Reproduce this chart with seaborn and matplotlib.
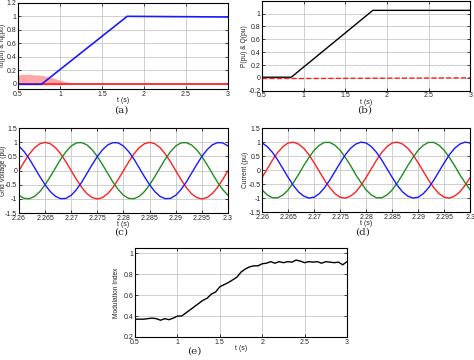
import numpy as np
import pandas as pd
import matplotlib
matplotlib.use("Agg")
import matplotlib.pyplot as plt
from matplotlib.ticker import FormatStrFormatter
import seaborn as sns

# (a) d/q currents
t_a = [0.5, 0.78, 1.8, 3.0]
id_a = [-0.01, -0.01, 1.0, 0.99]
t_iq = [0.5, 0.6, 0.7, 0.8, 0.85, 0.9, 0.95, 1.0, 1.05, 1.1, 1.2, 3.0]
iq_hi = [0.13, 0.14, 0.13, 0.12, 0.10, 0.09, 0.07, 0.05, 0.03, 0.02, 0.01, 0.01]
iq_lo = [-0.02, -0.02, -0.02, -0.02, -0.02, -0.02, -0.02, -0.02, -0.015, -0.01, -0.01, -0.01]

# (b) active / reactive power
t_b = [0.5, 0.85, 1.83, 3.0]
p_b = [0.01, 0.01, 1.05, 1.05]
t_q = [0.5, 1.0, 2.0, 3.0]
q_b = [-0.01, -0.01, -0.005, 0.0]

# (c) grid voltage, (d) current : sampled every 1 ms
t_w = [2.26 + 0.001 * k for k in range(41)]
va = [0, .31, .59, .81, .95, 1, .95, .81, .59, .31, 0, -.31, -.59, -.81, -.95, -1, -.95, -.81, -.59, -.31,
      0, .31, .59, .81, .95, 1, .95, .81, .59, .31, 0, -.31, -.59, -.81, -.95, -1, -.95, -.81, -.59, -.31, 0]
vb = [-.87, -.98, -.99, -.91, -.74, -.5, -.21, .1, .41, .67, .87, .98, .99, .91, .74, .5, .21, -.1, -.41, -.67,
      -.87, -.98, -.99, -.91, -.74, -.5, -.21, .1, .41, .67, .87, .98, .99, .91, .74, .5, .21, -.1, -.41, -.67, -.87]
vc = [.87, .67, .41, .1, -.21, -.5, -.74, -.91, -.99, -.98, -.87, -.67, -.41, -.1, .21, .5, .74, .91, .99, .98,
      .87, .67, .41, .1, -.21, -.5, -.74, -.91, -.99, -.98, -.87, -.67, -.41, -.1, .21, .5, .74, .91, .99, .98, .87]
ia = [-.26, .05, .36, .63, .84, .97, 1, .93, .78, .55, .26, -.05, -.36, -.63, -.84, -.97, -1, -.93, -.78, -.55,
      -.26, .05, .36, .63, .84, .97, 1, .93, .78, .55, .26, -.05, -.36, -.63, -.84, -.97, -1, -.93, -.78, -.55, -.26]
ib = [-.71, -.89, -.99, -.99, -.89, -.71, -.45, -.16, .16, .45, .71, .89, .99, .99, .89, .71, .45, .16, -.16, -.45,
      -.71, -.89, -.99, -.99, -.89, -.71, -.45, -.16, .16, .45, .71, .89, .99, .99, .89, .71, .45, .16, -.16, -.45, -.71]
ic = [.97, .84, .63, .36, .05, -.26, -.55, -.78, -.93, -1, -.97, -.84, -.63, -.36, -.05, .26, .55, .78, .93, 1,
      .97, .84, .63, .36, .05, -.26, -.55, -.78, -.93, -1, -.97, -.84, -.63, -.36, -.05, .26, .55, .78, .93, 1, .97]

# (e) modulation index
t_e = [0.5, 0.6, 0.7, 0.75, 0.8, 0.85, 0.9, 0.95, 1.0, 1.05, 1.1, 1.2, 1.3, 1.35, 1.4, 1.45, 1.5, 1.6, 1.7,
       1.75, 1.8, 1.85, 1.9, 1.95, 2.0, 2.05, 2.1, 2.15, 2.2, 2.25, 2.3, 2.35, 2.4, 2.45, 2.5, 2.55, 2.6,
       2.65, 2.7, 2.75, 2.8, 2.85, 2.9, 2.95, 3.0]
m_e = [0.37, 0.37, 0.38, 0.375, 0.36, 0.375, 0.365, 0.38, 0.40, 0.40, 0.43, 0.49, 0.55, 0.57, 0.61, 0.63,
       0.68, 0.72, 0.77, 0.82, 0.85, 0.87, 0.88, 0.88, 0.90, 0.905, 0.92, 0.905, 0.92, 0.91, 0.92, 0.915,
       0.935, 0.925, 0.91, 0.92, 0.915, 0.92, 0.905, 0.92, 0.915, 0.91, 0.915, 0.89, 0.92]

sns.set_style("whitegrid")
plt.rcParams["font.family"] = ["Liberation Sans", "DejaVu Sans"]
plt.rcParams["grid.color"] = "#c8c8c8"
plt.rcParams["grid.linewidth"] = 0.6
plt.rcParams["axes.edgecolor"] = "black"
plt.rcParams["axes.linewidth"] = 0.8

fig = plt.figure(figsize=(4.74, 3.6), dpi=100)
ax_a = fig.add_axes([0.038, 0.753, 0.443, 0.239])
ax_b = fig.add_axes([0.553, 0.748, 0.439, 0.25])
ax_c = fig.add_axes([0.040, 0.408, 0.441, 0.236])
ax_d = fig.add_axes([0.553, 0.411, 0.439, 0.233])
ax_e = fig.add_axes([0.285, 0.064, 0.447, 0.247])

red, green, blue = "#ff2020", "#228b22", "#1a1aff"

ax_a.fill_between(t_iq, iq_lo, iq_hi, color="#ff6060", alpha=0.55, lw=0)
sns.lineplot(x=t_iq, y=[0] * len(t_iq), ax=ax_a, color=red, lw=1.2)
sns.lineplot(x=t_a, y=id_a, ax=ax_a, color=blue, lw=1.2)
ax_a.set_xlim(0.5, 3)
ax_a.set_ylim(-0.08, 1.2)
ax_a.set_yticks(np.arange(0, 1.21, 0.2))
ax_a.set_ylabel("Id(pu) & Iq(pu)")

sns.lineplot(x=t_b, y=p_b, ax=ax_b, color="black", lw=1.0)
sns.lineplot(x=t_q, y=q_b, ax=ax_b, color=red, lw=1.0, linestyle="--")
ax_b.set_xlim(0.5, 3)
ax_b.set_ylim(-0.2, 1.2)
ax_b.set_yticks(np.arange(-0.2, 1.01, 0.2))
ax_b.set_ylabel("P(pu) & Q(pu)")

for ax, ys, lab in [(ax_c, (va, vb, vc), "Grid Voltage (pu)"), (ax_d, (ia, ib, ic), "Current (pu)")]:
    for y, col in zip(ys, (red, green, blue)):
        sns.lineplot(x=t_w, y=y, ax=ax, color=col, lw=1.0)
    ax.set_xlim(2.26, 2.3)
    ax.set_ylim(-1.5, 1.5)
    ax.set_xticks(np.arange(2.26, 2.3001, 0.005))
    ax.set_yticks(np.arange(-1.5, 1.51, 0.5))
    ax.set_ylabel(lab)

sns.lineplot(x=t_e, y=m_e, ax=ax_e, color="black", lw=1.0)
ax_e.set_xlim(0.5, 3)
ax_e.set_ylim(0.2, 1.05)
ax_e.set_yticks(np.arange(0.2, 1.01, 0.2))
ax_e.set_ylabel("Modulation Index")

for ax, lx in [(ax_a, -0.056), (ax_b, -0.068), (ax_c, -0.058), (ax_d, -0.065), (ax_e, -0.072)]:
    ax.xaxis.set_major_formatter(FormatStrFormatter("%g"))
    ax.yaxis.set_major_formatter(FormatStrFormatter("%g"))
    ax.tick_params(labelsize=5, direction="in", length=2, width=0.6, pad=1.2,
                   top=True, right=True, bottom=True, left=True)
    ax.set_xlabel("t (s)", fontsize=5, labelpad=-0.5)
    ax.yaxis.label.set_size(4.8)
    ax.yaxis.set_label_coords(lx, 0.5)
    ax.grid(True)
    for s in ax.spines.values():
        s.set_visible(True)
        s.set_color("black")

for x, y, s in [(0.255, 0.695, "(a)"), (0.77, 0.695, "(b)"), (0.255, 0.355, "(c)"), (0.765, 0.355, "(d)"),
                (0.41, 0.025, "(e)")]:
    fig.text(x, y, s, fontsize=7.5, family="DejaVu Serif", ha="center", va="center")

fig.savefig("out.png", dpi=100)
